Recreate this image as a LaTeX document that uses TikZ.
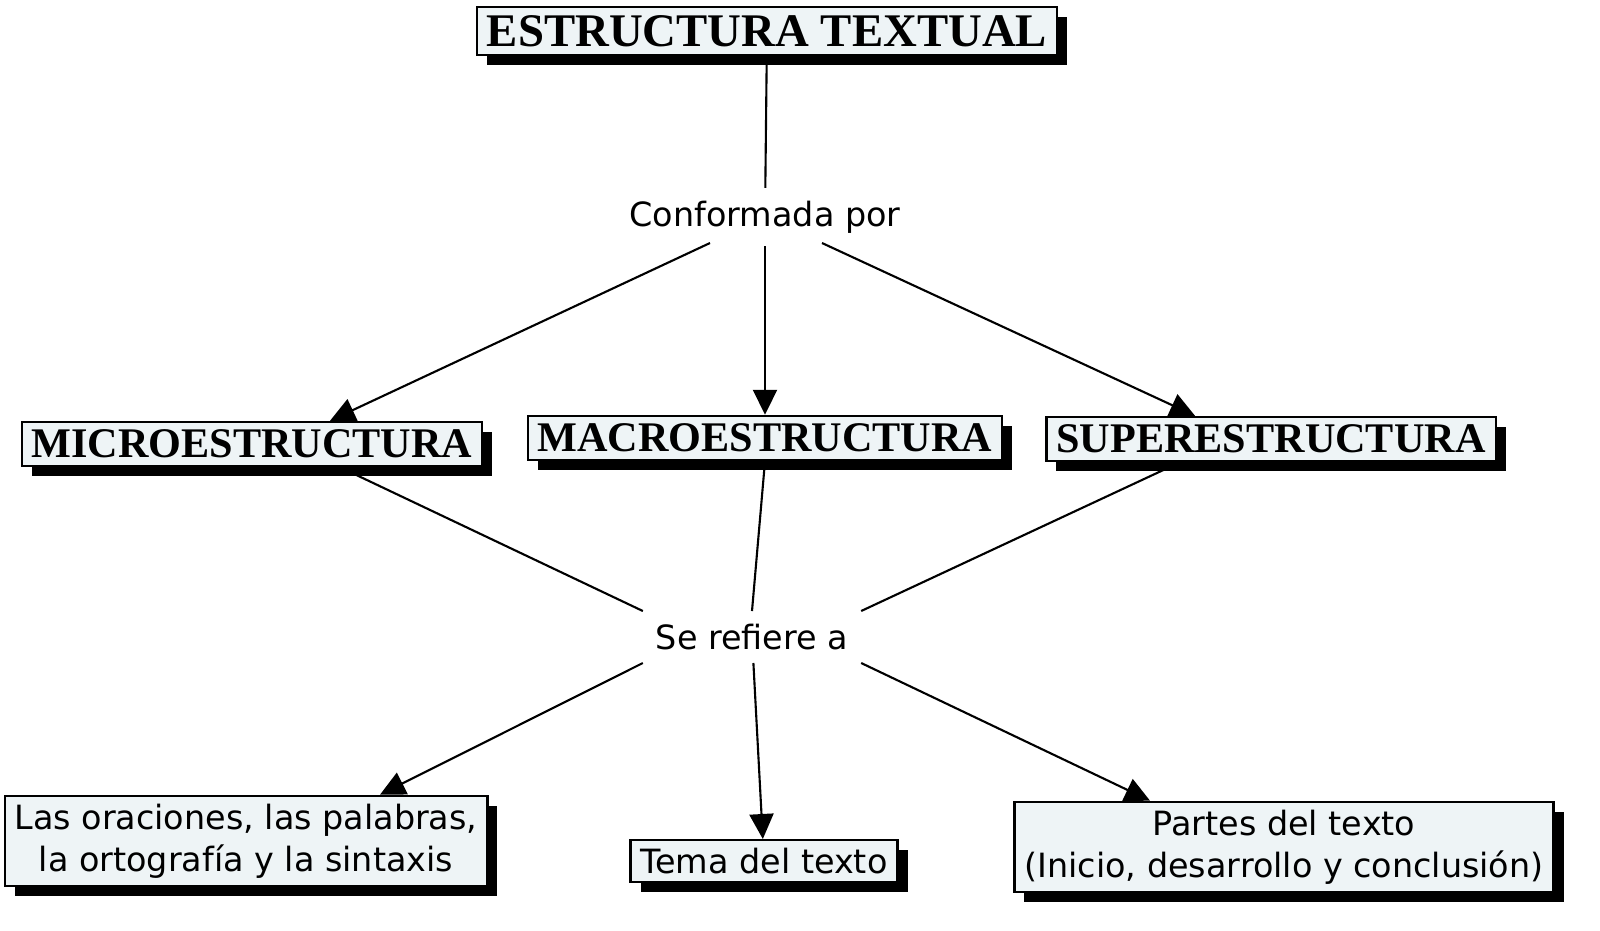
\documentclass[tikz,border=0pt]{standalone}
\usepackage{fontspec}
\setmainfont{DejaVu Sans}
\newfontfamily\headfont{Liberation Serif}
\usetikzlibrary{shadows,arrows.meta}
\definecolor{boxfill}{HTML}{EEF4F6}
\tikzset{
  concept/.style={draw,semithick,fill=boxfill,inner xsep=0.1cm,inner ysep=0.08cm,align=center,
    drop shadow={shadow xshift=0.1cm,shadow yshift=-0.1cm,fill=black,opacity=1}},
  head/.style={concept,font=\headfont\bfseries\fontsize{12}{14}\selectfont},
  leaf/.style={concept,font=\fontsize{9.5}{12}\selectfont},
  link/.style={font=\fontsize{9.5}{12}\selectfont,inner sep=0.12cm},
  tip/.style={-{Triangle[length=0.25cm,width=0.24cm]}}
}
\begin{document}
\begin{tikzpicture}[x=0.01cm,y=-0.01cm,semithick]
\useasboundingbox (0,0) rectangle (1600,930);
\node[head,font=\headfont\bfseries\fontsize{13.3}{16}\selectfont] (est) at (767,31) {ESTRUCTURA TEXTUAL};
\node[link] (conf) at (765,217) {Conformada por};
\node[head] (micro) at (252,444) {MICROESTRUCTURA};
\node[head] (macro) at (765,438) {MACROESTRUCTURA};
\node[head] (super) at (1271,439) {SUPERESTRUCTURA};
\node[link] (refi) at (752,637) {Se refiere a};
\node[leaf] (orac) at (246,841) {Las oraciones, las palabras,\\la ortografía y la sintaxis};
\node[leaf] (tema) at (764,861) {Tema del texto};
\node[leaf] (part) at (1284,847) {Partes del texto\\(Inicio, desarrollo y conclusión)};
% upper links
\draw (est) -- (conf);
\draw[tip] (710,243) -- (micro.north -| 330,0);
\draw[tip] (conf) -- (macro);
\draw[tip] (822,243) -- (super.north -| 1195,0);
% lower links
\draw (micro.south -| 340,0) -- (refi.north west);
\draw (macro.south) -- (refi.north);
\draw (super.south -| 1180,0) -- (refi.north east);
\draw[tip] (refi.south west) -- (orac.north -| 380,0);
\draw[tip] (refi) -- (tema);
\draw[tip] (refi.south east) -- (part.north -| 1150,0);
\end{tikzpicture}
\end{document}
